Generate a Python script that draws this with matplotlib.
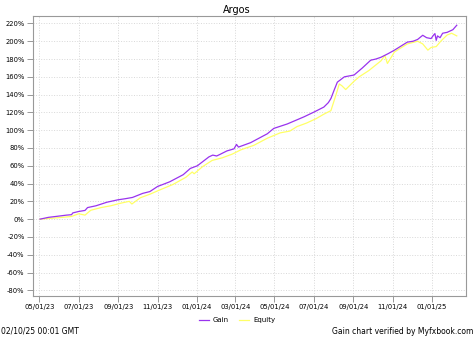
import matplotlib
matplotlib.use("Agg")
import matplotlib.pyplot as plt
import matplotlib.dates as mdates
import pandas as pd

# Gain curve (% growth)
gain_dates = ["2023-05-02", "2023-05-15", "2023-06-01", "2023-06-12", "2023-06-20", "2023-06-22",
              "2023-07-01", "2023-07-11", "2023-07-15", "2023-07-28", "2023-08-14", "2023-08-31",
              "2023-09-12", "2023-09-23", "2023-10-09", "2023-10-20", "2023-11-01", "2023-11-20",
              "2023-12-11", "2023-12-22", "2024-01-02", "2024-01-11", "2024-01-20", "2024-01-26",
              "2024-02-01", "2024-02-06", "2024-02-17", "2024-02-28", "2024-03-03", "2024-03-06",
              "2024-03-25", "2024-04-20", "2024-04-30", "2024-05-21", "2024-06-16", "2024-07-02",
              "2024-07-17", "2024-07-24", "2024-07-28", "2024-08-02", "2024-08-07", "2024-08-18",
              "2024-09-02", "2024-09-15", "2024-09-28", "2024-10-06", "2024-10-14", "2024-10-25",
              "2024-11-04", "2024-11-24", "2024-12-03", "2024-12-10", "2024-12-18", "2024-12-24",
              "2024-12-31", "2025-01-04", "2025-01-06", "2025-01-08", "2025-01-10", "2025-01-14",
              "2025-01-18", "2025-01-25", "2025-02-03", "2025-02-09"]
gain = [0, 2, 3.5, 4.5, 5, 7, 8.6, 9.8, 13, 15, 19, 21.7,
        23, 24.4, 29, 31, 36.7, 42, 50, 57, 60, 65, 70, 72,
        71, 72.7, 76.7, 79, 84, 81, 86, 96, 102, 107, 115, 120.5,
        126, 131, 135.6, 145, 154, 160, 162, 170, 178.7, 180, 182, 186,
        190, 199, 200, 202, 206.7, 204, 203, 207, 208.6, 201, 206, 204,
        209, 210, 213, 218]

# Equity curve (%)
equity_dates = ["2023-05-02", "2023-05-20", "2023-06-05", "2023-06-20", "2023-07-01", "2023-07-08",
                "2023-07-11", "2023-07-20", "2023-08-05", "2023-08-20", "2023-09-05", "2023-09-18",
                "2023-09-22", "2023-10-05", "2023-10-20", "2023-11-05", "2023-11-25", "2023-12-15",
                "2023-12-25", "2023-12-28", "2024-01-10", "2024-01-25", "2024-02-10", "2024-02-25",
                "2024-03-10", "2024-03-30", "2024-04-20", "2024-05-10", "2024-05-25", "2024-06-05",
                "2024-06-20", "2024-07-05", "2024-07-17", "2024-07-28", "2024-08-05", "2024-08-10",
                "2024-08-14", "2024-08-20", "2024-09-02", "2024-09-10", "2024-09-25", "2024-10-14",
                "2024-10-20", "2024-10-24", "2024-11-04", "2024-11-24", "2024-12-10", "2024-12-18",
                "2024-12-26", "2024-12-31", "2025-01-08", "2025-01-15", "2025-01-25", "2025-02-01",
                "2025-02-09"]
equity = [0, 1, 2, 3, 6, 5, 4.5, 10, 13, 15, 18, 20,
          17, 24, 28, 33, 39, 47, 53, 51, 59, 66, 69, 73,
          78, 83, 91, 97, 99, 104, 108, 113, 118, 122, 140, 152,
          150, 145.7, 155, 160, 167, 178, 184, 175, 188, 197, 200, 197,
          190, 193, 194, 200, 207, 209, 206]

x_ticks = ["2023-05-01", "2023-07-01", "2023-09-01", "2023-11-01", "2024-01-01", "2024-03-01",
           "2024-05-01", "2024-07-01", "2024-09-01", "2024-11-01", "2025-01-01"]
y_ticks = list(range(-80, 221, 20))

gain_x = pd.to_datetime(gain_dates)
equity_x = pd.to_datetime(equity_dates)

plt.rcParams['font.family'] = ['DejaVu Sans']
fig = plt.figure(figsize=(4.74, 3.38), dpi=100)
ax = fig.add_axes([0.0696, 0.124, 0.913, 0.829])

ax.plot(equity_x, equity, color='#ffff66', linewidth=0.9, label='Equity', zorder=2)
ax.plot(gain_x, gain, color='#9933ee', linewidth=0.9, label='Gain', zorder=3)

ax.set_xlim(pd.Timestamp("2023-04-21"), pd.Timestamp("2025-02-23"))
ax.set_ylim(-86.5, 228.5)
ax.set_xticks(pd.to_datetime(x_ticks))
ax.xaxis.set_major_formatter(mdates.DateFormatter('%m/%d/%y'))
ax.set_yticks(y_ticks)
ax.set_yticklabels([f"{v}%" for v in y_ticks])
ax.tick_params(labelsize=4.9, length=4, width=0.6, color='#888888', pad=2)

ax.grid(True, color='#d8d8d8', linestyle=':', linewidth=0.7)
for s in ax.spines.values():
    s.set_color('#999999')
    s.set_linewidth(0.8)

fig.text(0.5, 0.985, 'Argos', fontsize=7, ha='center', va='top')

handles, labels = ax.get_legend_handles_labels()
fig.legend(handles[::-1], labels[::-1], loc='center', bbox_to_anchor=(0.5, 0.053), ncol=2,
           frameon=False, fontsize=5, handlelength=1.4, columnspacing=1.5, handletextpad=0.6)

fig.text(0.003, 0.02, '02/10/25 00:01 GMT', fontsize=5.5, ha='left', va='center')
fig.text(0.999, 0.02, 'Gain chart verified by Myfxbook.com', fontsize=5.5, ha='right', va='center')

fig.savefig('out.png', dpi=100)
